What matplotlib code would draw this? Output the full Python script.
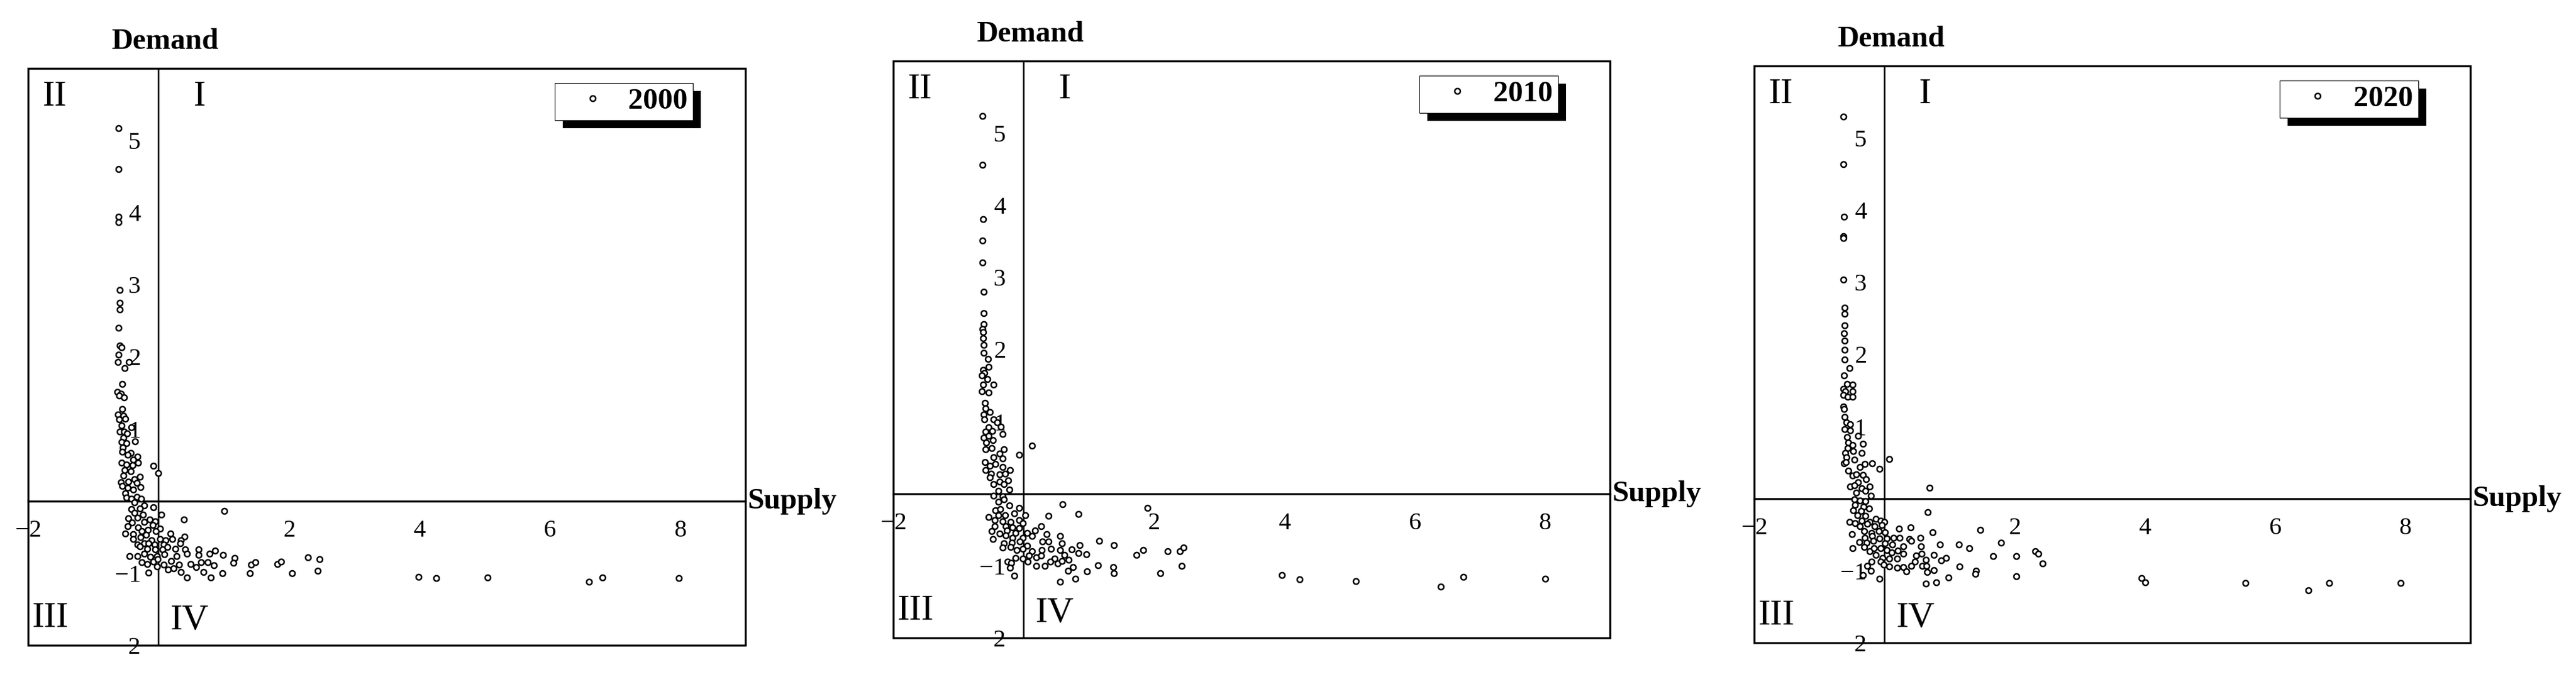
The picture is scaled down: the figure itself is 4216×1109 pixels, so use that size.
import matplotlib
matplotlib.use('Agg')
import matplotlib.pyplot as plt
import numpy as np
from matplotlib.patches import Rectangle
from matplotlib.transforms import IdentityTransform

plt.rcParams['font.family'] = ['Liberation Serif', 'DejaVu Serif']

# (supply, demand) pairs
pts2000 = [
    (-0.61, 5.17), (-0.61, 4.60), (-0.61, 3.94), (-0.61, 3.87), (-0.59, 2.93), (-0.59, 2.75),
    (-0.59, 2.66), (-0.61, 2.40), (-0.59, 2.16), (-0.57, 2.13), (-0.61, 2.03), (-0.62, 1.93),
    (-0.45, 1.93), (-0.52, 1.84),
    (-0.56, 1.62), (-0.63, 1.51), (-0.58, 1.49), (-0.60, 1.46), (-0.53, 1.44), (-0.56, 1.28),
    (-0.62, 1.20), (-0.54, 1.18), (-0.60, 1.13), (-0.51, 1.14), (-0.57, 1.05), (-0.42, 1.02),
    (-0.59, 0.96), (-0.53, 0.96), (-0.48, 0.94), (-0.54, 0.88), (-0.36, 0.83), (-0.57, 0.82),
    (-0.49, 0.80), (-0.55, 0.74), (-0.56, 0.68), (-0.43, 0.67), (-0.47, 0.64), (-0.32, 0.62),
    (-0.39, 0.57), (-0.57, 0.53), (-0.49, 0.51), (-0.40, 0.50), (-0.31, 0.53), (-0.08, 0.49),
    (0.00, 0.39), (-0.52, 0.43), (-0.43, 0.41), (-0.54, 0.35), (-0.29, 0.34), (-0.37, 0.30),
    (-0.58, 0.26), (-0.46, 0.27), (-0.33, 0.25), (-0.56, 0.21), (-0.47, 0.18), (-0.28, 0.19),
    (-0.39, 0.16), (-0.51, 0.11), (-0.33, 0.06), (-0.49, 0.05), (-0.42, 0.03), (-0.27, 0.03),
    (-0.37, -0.02), (-0.22, -0.06), (-0.08, -0.09), (-0.42, -0.11), (-0.29, -0.10), (0.04, -0.19),
    (-0.37, -0.16), (-0.24, -0.19), (1.01, -0.14), (-0.46, -0.24), (-0.32, -0.23), (-0.14, -0.26),
    (-0.05, -0.28), (0.39, -0.26), (-0.41, -0.30), (-0.22, -0.29), (-0.47, -0.35), (-0.31, -0.37),
    (-0.09, -0.33), (0.02, -0.38), (-0.51, -0.45), (-0.39, -0.46), (-0.26, -0.42), (-0.16, -0.40),
    (-0.04, -0.42), (0.18, -0.45), (0.40, -0.49), (-0.39, -0.53), (-0.28, -0.50), (-0.19, -0.47),
    (-0.11, -0.54), (0.02, -0.53), (0.11, -0.54), (0.21, -0.53), (0.34, -0.54), (-0.32, -0.60),
    (-0.22, -0.59), (-0.15, -0.59), (-0.06, -0.60), (0.08, -0.60), (0.33, -0.59), (-0.29, -0.63),
    (-0.17, -0.66), (-0.05, -0.67), (0.06, -0.67), (0.14, -0.64), (0.26, -0.66), (0.41, -0.67),
    (0.61, -0.67), (0.87, -0.69), (-0.44, -0.76), (-0.32, -0.76), (-0.22, -0.73), (-0.13, -0.77),
    (-0.02, -0.76), (0.09, -0.74), (0.28, -0.76), (0.44, -0.73), (0.61, -0.75), (0.78, -0.73),
    (0.99, -0.75), (1.17, -0.79), (-0.26, -0.85), (-0.17, -0.87), (-0.08, -0.84), (-0.01, -0.81),
    (0.08, -0.88), (0.19, -0.83), (0.31, -0.88), (0.49, -0.87), (0.58, -0.92), (0.65, -0.85),
    (0.75, -0.85), (0.85, -0.89), (1.15, -0.86), (1.42, -0.88), (1.49, -0.85), (1.82, -0.87),
    (1.88, -0.84), (2.29, -0.78), (2.47, -0.81), (2.44, -0.97), (-0.02, -0.91), (0.15, -0.95),
    (0.23, -0.93), (0.34, -0.98), (0.69, -0.98), (-0.15, -0.99), (0.44, -1.06), (0.80, -1.06),
    (0.98, -1.00), (1.40, -1.00), (2.05, -1.00),
    (3.99, -1.05), (4.26, -1.07), (5.05, -1.06), (6.60, -1.12), (6.81, -1.06), (7.98, -1.07),
]

pts2010 = [
    (-0.63, 5.24), (-0.63, 4.56), (-0.62, 3.81), (-0.63, 3.51), (-0.63, 3.21), (-0.61, 2.80),
    (-0.61, 2.50), (-0.61, 2.35), (-0.63, 2.28),
    (-0.62, 2.24), (-0.62, 2.16), (-0.61, 2.06), (-0.61, 1.95), (-0.55, 1.87), (-0.54, 1.76),
    (-0.62, 1.72), (-0.60, 1.67), (-0.64, 1.64), (-0.56, 1.59), (-0.62, 1.51), (-0.46, 1.51),
    (-0.64, 1.42), (-0.54, 1.40), (-0.59, 1.26), (-0.58, 1.18), (-0.52, 1.13), (-0.61, 1.10),
    (-0.60, 1.03), (-0.46, 1.03), (-0.41, 0.99), (-0.54, 0.92), (-0.35, 0.93), (-0.58, 0.86),
    (-0.48, 0.87), (-0.32, 0.83), (-0.61, 0.78), (-0.54, 0.80), (-0.47, 0.74), (-0.57, 0.71),
    (-0.58, 0.62), (-0.49, 0.63), (-0.30, 0.62), (-0.37, 0.56), (-0.46, 0.51), (-0.32, 0.49),
    (-0.07, 0.54), (0.13, 0.67), (-0.59, 0.44), (-0.52, 0.39), (-0.43, 0.41), (-0.32, 0.37),
    (-0.21, 0.33), (-0.58, 0.33), (-0.50, 0.28), (-0.37, 0.27), (-0.28, 0.28), (-0.52, 0.23),
    (-0.24, 0.18), (-0.46, 0.13), (-0.37, 0.17), (-0.30, 0.13), (-0.39, 0.04), (-0.22, 0.06),
    (-0.46, -0.03), (-0.32, -0.04), (-0.39, -0.11), (-0.30, -0.08), (-0.22, -0.16), (-0.43, -0.23),
    (-0.36, -0.21), (-0.07, -0.20), (0.60, -0.15), (0.84, -0.28), (1.90, -0.20), (0.38, -0.31),
    (-0.54, -0.32), (-0.39, -0.30), (-0.28, -0.30), (-0.14, -0.27), (0.03, -0.30), (-0.44, -0.37),
    (-0.32, -0.38), (-0.20, -0.39), (-0.07, -0.37), (-0.01, -0.41), (-0.44, -0.45), (-0.27, -0.45),
    (-0.17, -0.47), (-0.07, -0.48), (0.27, -0.45), (-0.49, -0.52), (-0.37, -0.55), (-0.26, -0.51),
    (-0.12, -0.54), (0.05, -0.54), (0.18, -0.51), (-0.47, -0.63), (-0.27, -0.58), (-0.17, -0.61),
    (-0.01, -0.61), (0.13, -0.59), (0.35, -0.56), (0.56, -0.59), (-0.30, -0.69), (-0.18, -0.68),
    (-0.06, -0.66), (0.05, -0.72), (0.29, -0.66), (0.38, -0.66), (0.59, -0.69), (0.86, -0.71),
    (1.16, -0.65), (1.39, -0.71), (-0.32, -0.75), (-0.20, -0.74), (-0.11, -0.78), (-0.01, -0.76),
    (0.13, -0.80), (0.28, -0.78), (0.42, -0.76), (0.56, -0.78), (0.74, -0.77), (0.84, -0.82),
    (0.96, -0.84), (1.73, -0.85), (1.84, -0.78), (2.21, -0.80), (2.40, -0.80), (2.45, -0.75),
    (-0.12, -0.89), (-0.01, -0.90), (0.08, -0.86), (0.19, -0.88), (0.27, -0.86), (0.48, -0.90),
    (0.63, -0.85), (0.69, -0.92), (-0.25, -0.94), (-0.19, -0.96), (0.06, -0.94), (0.19, -1.00),
    (0.33, -1.00), (0.41, -0.94), (0.52, -0.97), (0.59, -0.93), (0.76, -1.02), (0.68, -1.07),
    (-0.21, -1.03), (1.14, -0.99), (1.38, -1.02), (1.39, -1.10), (0.97, -1.08), (2.10, -1.10),
    (2.43, -1.00), (-0.14, -1.14), (0.56, -1.22), (0.79, -1.18),
    (3.96, -1.13), (4.24, -1.19), (5.10, -1.21), (6.40, -1.29), (6.75, -1.15), (8.01, -1.18),
]

pts2020 = [
    (-0.63, 5.30), (-0.63, 4.64), (-0.62, 3.91), (-0.63, 3.64), (-0.63, 3.61), (-0.63, 3.04),
    (-0.61, 2.65), (-0.61, 2.56), (-0.61, 2.40),
    (-0.62, 2.29), (-0.61, 2.19), (-0.61, 2.06), (-0.61, 1.93), (-0.54, 1.81), (-0.62, 1.71),
    (-0.57, 1.59), (-0.49, 1.58), (-0.63, 1.52), (-0.60, 1.49), (-0.49, 1.49), (-0.63, 1.44),
    (-0.56, 1.41), (-0.49, 1.41), (-0.63, 1.28), (-0.62, 1.24), (-0.61, 1.13), (-0.58, 1.06),
    (-0.53, 1.03), (-0.61, 0.96), (-0.53, 0.95), (-0.40, 0.87), (-0.57, 0.85), (-0.55, 0.78),
    (-0.33, 0.76), (-0.49, 0.74), (-0.56, 0.70), (-0.48, 0.66), (-0.35, 0.63), (-0.60, 0.63),
    (-0.58, 0.57), (0.07, 0.55), (-0.46, 0.54), (-0.19, 0.49), (-0.30, 0.48), (-0.62, 0.49),
    (-0.59, 0.51), (-0.38, 0.44), (-0.55, 0.39), (-0.08, 0.41), (-0.49, 0.32), (-0.43, 0.34),
    (-0.33, 0.33), (-0.28, 0.27), (-0.53, 0.17), (-0.40, 0.23), (-0.46, 0.18), (-0.23, 0.17),
    (-0.35, 0.14), (-0.29, 0.11), (-0.43, 0.08), (-0.21, 0.04), (0.69, 0.15), (-0.46, -0.01),
    (-0.38, -0.03), (-0.29, -0.04), (-0.45, -0.09), (-0.32, -0.11), (-0.48, -0.16), (-0.36, -0.17),
    (-0.24, -0.14), (-0.41, -0.23), (-0.29, -0.24), (-0.13, -0.28), (0.67, -0.19), (-0.54, -0.32),
    (-0.45, -0.34), (-0.35, -0.31), (-0.23, -0.32), (-0.06, -0.31), (0.00, -0.32), (-0.38, -0.38),
    (-0.26, -0.35), (-0.15, -0.38), (-0.04, -0.37), (0.22, -0.42), (0.40, -0.40), (0.74, -0.47),
    (1.47, -0.43), (-0.50, -0.49), (-0.31, -0.45), (-0.20, -0.48), (-0.09, -0.45), (0.01, -0.47),
    (-0.30, -0.54), (-0.19, -0.52), (-0.08, -0.55), (0.04, -0.55), (0.14, -0.54), (0.23, -0.54),
    (0.38, -0.56), (0.55, -0.54), (-0.39, -0.60), (-0.27, -0.61), (-0.17, -0.59), (0.01, -0.62),
    (0.12, -0.64), (0.29, -0.66), (0.41, -0.59), (0.56, -0.66), (0.85, -0.64), (1.14, -0.64),
    (1.30, -0.69), (1.79, -0.61), (-0.49, -0.69), (-0.31, -0.67), (-0.23, -0.73), (-0.16, -0.69),
    (-0.06, -0.69), (0.04, -0.71), (0.11, -0.75), (0.21, -0.72), (0.29, -0.76), (0.57, -0.76),
    (0.76, -0.78), (0.95, -0.82), (0.87, -0.86), (1.67, -0.80), (2.03, -0.80), (2.32, -0.73),
    (2.36, -0.76), (2.43, -0.90), (-0.13, -0.78), (-0.03, -0.82), (0.07, -0.83), (0.20, -0.83),
    (0.49, -0.79), (0.64, -0.85), (-0.20, -0.87), (-0.06, -0.87), (-0.26, -0.93), (-0.01, -0.92),
    (0.07, -0.94), (0.20, -0.96), (0.29, -0.95), (0.41, -0.93), (0.47, -0.87), (0.58, -0.93),
    (0.65, -0.93), (0.76, -0.99), (0.34, -1.01), (0.66, -1.02), (-0.21, -1.00), (1.15, -0.94),
    (1.41, -1.00), (1.40, -1.04), (-0.33, -1.06), (-0.08, -1.11), (0.98, -1.09), (2.03, -1.08),
    (0.64, -1.18), (0.80, -1.16),
    (3.95, -1.10), (4.01, -1.16), (5.55, -1.17), (6.51, -1.27), (6.83, -1.17), (7.93, -1.17),
]

years = ['2000', '2010', '2020']
series = [pts2000, pts2010, pts2020]
x_ticks = [-2, 2, 4, 6, 8]
y_ticks = [-2, -1, 1, 2, 3, 4, 5]
quadrants = [('I', 0.63, 5.6), ('II', -1.59, 5.6), ('III', -1.66, -1.63), ('IV', 0.48, -1.66)]

W, H = 4216, 1109
# axes boxes in pixels: left, right, top, bottom
boxes = [(46, 1220, 112, 1057), (1462, 2635, 100, 1045), (2871, 4043, 108, 1053)]

fig = plt.figure(figsize=(W / 100, H / 100), dpi=100)
fig.patch.set_facecolor('white')

axes = []
for (l, r, t, b), year, pts in zip(boxes, years, series):
    ax = fig.add_axes([l / W, (H - b) / H, (r - l) / W, (b - t) / H])
    axes.append(ax)
    xs, ys = np.array(pts).T
    ax.plot(xs, ys, 'o', ms=6.5, mfc='white', mec='black', mew=1.8,
            label=year, zorder=3)

    ax.set_xlim(-2, 9)
    ax.set_ylim(-2, 6)

    # zero lines through the spines, outer frame as a box
    ax.spines['left'].set_position(('data', 0))
    ax.spines['bottom'].set_position(('data', 0))
    ax.spines['left'].set_linewidth(1.8)
    ax.spines['bottom'].set_linewidth(2.4)
    ax.spines['top'].set_visible(False)
    ax.spines['right'].set_visible(False)
    ax.add_patch(Rectangle((0, 0), 1, 1, transform=ax.transAxes, fill=False,
                           lw=2.4, ec='black', clip_on=False, zorder=2.6))

    ax.set_xticks(x_ticks)
    ax.set_yticks(y_ticks)
    ax.tick_params(axis='x', length=0, pad=22, labelsize=29)
    ax.tick_params(axis='y', length=0, pad=21, labelsize=29)

    for lab, qx, qy in quadrants:
        ax.text(qx, qy, lab, fontsize=43, ha='center', va='center')

    ax.text(0.1, 1.047, 'Demand', transform=ax.get_xaxis_transform(),
            fontsize=35, fontweight='bold', ha='center', va='center')
    ax.text(1.003, 0, 'Supply', transform=ax.get_yaxis_transform(),
            fontsize=35, fontweight='bold', ha='left', va='center')

    leg = ax.legend(loc='upper left', bbox_to_anchor=(0.734, 0.975), borderaxespad=0,
                    fancybox=False, edgecolor='black', framealpha=1, numpoints=1,
                    handlelength=2.2, handletextpad=0.1, borderpad=0.18,
                    prop={'size': 35, 'weight': 'bold'})
    leg.get_frame().set_linewidth(0.8)
    leg.set_zorder(6)

# black drop shadow behind each legend box
fig.canvas.draw()
for ax in axes:
    bb = ax.get_legend().get_window_extent()
    ax.add_artist(Rectangle((bb.x0 + 13, bb.y0 - 13), bb.width, bb.height,
                            transform=IdentityTransform(), fc='black', ec='none',
                            zorder=5.5, clip_on=False))

fig.savefig('out.png', dpi=100)
